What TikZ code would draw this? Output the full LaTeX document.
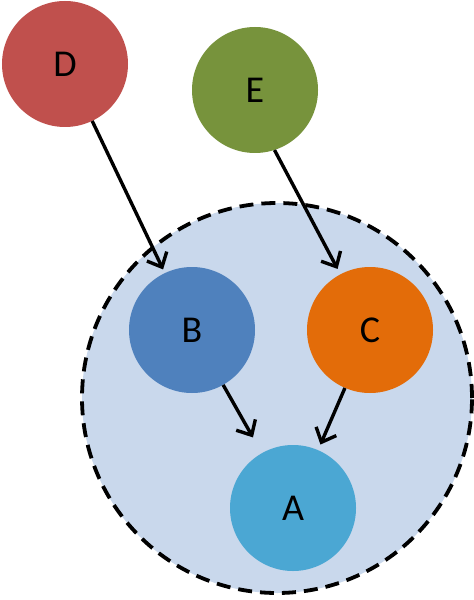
\documentclass[tikz,border=0pt]{standalone}
\usepackage{fontspec}
\setmainfont{Carlito}
\usetikzlibrary{arrows.meta}

\definecolor{dred}{HTML}{C0504D}
\definecolor{egreen}{HTML}{77933C}
\definecolor{bblue}{HTML}{4F81BD}
\definecolor{corange}{HTML}{E36C09}
\definecolor{aaqua}{HTML}{4BA7D3}
\definecolor{grpblue}{HTML}{C9D8EC}

\begin{document}
\begin{tikzpicture}[x=0.5mm, y=-0.5mm,
  every node/.style={circle, inner sep=0pt, minimum size=63mm, font=\fontsize{54}{60}\selectfont},
  group/.style={draw=black, fill=grpblue, dash pattern=on 7mm off 4mm, line width=1.9mm, minimum size=195mm},
  link/.style={-{Straight Barb[length=6mm, width=11mm]}, line width=1.7mm}
]
\useasboundingbox (0,0) rectangle (474,600);
\node[group] (grp) at (277,398) {};
\node[fill=dred] (D) at (65,64) {D};
\node[fill=egreen] (E) at (255,90) {E};
\node[fill=bblue] (B) at (192,330) {B};
\node[fill=corange] (C) at (370,330) {C};
\node[fill=aaqua] (A) at (293,508) {A};
\draw[link, shorten >=2mm] (D) -- (B);
\draw[link, shorten >=3mm] (E.-72) -- (C);
\draw[link, shorten >=9mm] (B) -- (A);
\draw[link, shorten >=3mm] (C) -- (A);
\end{tikzpicture}
\end{document}
